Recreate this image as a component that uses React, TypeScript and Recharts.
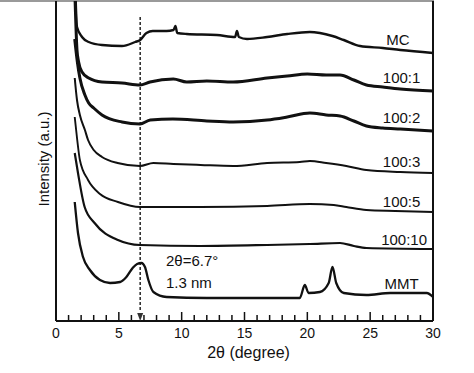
// XRD patterns of MC / MC:MMT films, stacked with an offset, 2θ 0..30°.
import {
  LineChart,
  Line,
  XAxis,
  YAxis,
  ReferenceLine,
  ReferenceDot,
  Label,
} from 'recharts'

const FONT = '"Liberation Sans", Arial, sans-serif'
const INK = '#111'

// 2θ positions and offset intensities (a.u.)
const mcTheta = [1.48, 1.67, 2.07, 2.6, 3.66, 5.25, 6.3, 6.7, 7.2, 7.7, 8.8, 9.35, 9.5, 9.65, 10.4, 12.8, 14.25, 14.4, 14.55, 15.2, 16.8, 18.4, 20.2, 21.0, 22.0, 22.9, 24.2, 26.0, 27.4, 30]
const mcLevel = [361, 294, 284, 279, 276, 275, 279, 281, 288, 290, 290, 291, 295, 288, 287, 286, 284, 290, 284, 282, 284, 287, 289, 288, 285, 281, 275, 273, 271, 268]

const r1Theta = [1.45, 1.67, 1.8, 2.07, 2.6, 3.66, 5.25, 6.68, 7.48, 9.34, 10.4, 12.0, 14.1, 16.8, 18.4, 20.0, 21.5, 22.6, 23.7, 24.7, 26, 27.4, 30]
const r1Level = [351, 271, 259, 249, 243, 239, 238, 236, 239, 242, 239, 240, 239, 243, 245, 247, 246, 246, 241, 236, 234, 232, 230]

const r2Theta = [1.49, 1.7, 1.9, 2.3, 2.6, 3.0, 3.66, 5.25, 6.68, 7.5, 9.3, 12, 14.1, 16.8, 18.4, 20.2, 21.5, 22.6, 23.7, 24.7, 26, 27.4, 30]
const r2Level = [282, 259, 243, 226, 218, 213, 206, 199, 197, 201, 202, 200, 199, 201, 204, 208, 206, 205, 200, 195, 193, 192, 190]

const r3Theta = [1.49, 1.67, 1.9, 2.3, 2.55, 3.0, 3.66, 4.9, 6.68, 7.75, 9.34, 11.5, 14.1, 16.8, 19.4, 20.2, 21.5, 23.1, 24.7, 27.4, 30]
const r3Level = [243, 221, 206, 191, 181, 171, 164, 158, 155, 158, 157, 156, 155, 158, 159, 160, 158, 155, 151, 149, 148]

const r5Theta = [1.49, 1.69, 1.9, 2.55, 3.5, 4.93, 6.68, 11.5, 16.8, 20.2, 22.1, 23.1, 24.7, 27, 30]
const r5Level = [204, 181, 161, 141, 127, 119, 114, 114, 115, 117, 116, 114, 111, 110, 109]

const r10Theta = [1.49, 1.75, 2.28, 3.07, 4.93, 6.68, 11.5, 16.8, 20.2, 22.6, 23.7, 24.7, 30]
const r10Level = [168, 148, 114, 98, 81, 76, 75, 76, 77, 78, 75, 73, 72]

const mmtTheta = [1.49, 1.75, 2.15, 2.7, 3.5, 4.3, 5.1, 5.6, 6.1, 6.45, 6.8, 7.08, 7.35, 7.75, 8.8, 12, 16, 19.4, 19.8, 20.1, 21.0, 21.7, 22.0, 22.3, 22.9, 24.7, 26.6, 28.7, 29.5, 30]
const mmtLevel = [119, 88, 64, 51, 41, 38, 39, 44, 53, 57, 58, 54, 41, 29, 24, 23, 23, 23, 36, 28, 29, 38, 54, 38, 28, 26, 28, 28, 28, 24]

const seriesNames = ['MC', '100:1', '100:2', '100:3', '100:5', '100:10', 'MMT']
const labelTheta = [27.2, 27.5, 27.5, 27.5, 27.5, 27.7, 27.5]
const labelLevel = [276, 238, 198, 154, 114, 76, 32]

const xTicks = Array.from({ length: 31 }, (_, i) => i)

const zip = (t: number[], v: number[]) => t.map((x, i) => ({ t: x, v: v[i] }))

const series = [
  { data: zip(mcTheta, mcLevel), w: 2.4 },
  { data: zip(r1Theta, r1Level), w: 3 },
  { data: zip(r2Theta, r2Level), w: 3 },
  { data: zip(r3Theta, r3Level), w: 2 },
  { data: zip(r5Theta, r5Level), w: 1.9 },
  { data: zip(r10Theta, r10Level), w: 2.2 },
  { data: zip(mmtTheta, mmtLevel), w: 2.3 },
]

function XTick(props: any) {
  const { x, y, payload } = props
  const major = payload.value % 5 === 0
  return (
    <g>
      <line x1={x} x2={x} y1={y} y2={y - (major ? 9 : 6)} stroke={INK} strokeWidth={1.5} />
      {major && (
        <text x={x} y={y + 17} textAnchor="middle" fontSize={14} fontFamily={FONT} fill={INK}>
          {payload.value}
        </text>
      )}
    </g>
  )
}

const textShape = (value: string, anchor: 'start' | 'middle') => (p: any) => (
  <text x={p.cx} y={p.cy} textAnchor={anchor} fontSize={15} fontFamily={FONT} fill={INK}>
    {value}
  </text>
)

const arrowShape = (p: any) => (
  <polygon
    points={`${p.cx - 3},${p.cy - 6} ${p.cx + 3},${p.cy - 6} ${p.cx},${p.cy + 2}`}
    fill="#333"
  />
)

export default function App() {
  return (
    <div style={{ position: 'absolute', left: 0, top: 0, width: 474, height: 373, background: '#fff' }}>
      {/* grey strip along the top edge of the scan */}
      <div style={{ position: 'absolute', left: 0, top: 0, width: 434, height: 2, background: '#9a9a9a' }} />
      <LineChart width={474} height={373} margin={{ top: 1, right: 41, bottom: 0, left: 0 }}>
        <XAxis
          type="number"
          dataKey="t"
          domain={[0, 30]}
          ticks={xTicks}
          interval={0}
          height={52}
          tickSize={0}
          tickMargin={0}
          tickLine={false}
          tick={<XTick />}
          axisLine={{ stroke: INK, strokeWidth: 2 }}
        >
          <Label
            content={(p: any) => (
              <text
                x={p.viewBox.x + p.viewBox.width / 2 + 4}
                y={p.viewBox.y + 37}
                textAnchor="middle"
                fontSize={16}
                fontFamily={FONT}
                fill={INK}
              >
                2θ (degree)
              </text>
            )}
          />
        </XAxis>
        <YAxis
          type="number"
          domain={[0, 320]}
          allowDataOverflow
          width={56}
          tick={false}
          tickLine={false}
          axisLine={{ stroke: INK, strokeWidth: 2 }}
        >
          <Label
            content={(p: any) => {
              const cx = 49
              const cy = p.viewBox.y + p.viewBox.height / 2 - 2
              return (
                <text
                  x={cx}
                  y={cy}
                  transform={`rotate(-90, ${cx}, ${cy})`}
                  textAnchor="middle"
                  fontSize={15}
                  fontFamily={FONT}
                  fill={INK}
                >
                  Intensity (a.u.)
                </text>
              )
            }}
          />
        </YAxis>

        <ReferenceLine x={30} stroke={INK} strokeWidth={2} />
        <ReferenceLine
          segment={[{ x: 6.7, y: 304 }, { x: 6.7, y: 9 }]}
          stroke="#333"
          strokeWidth={1.6}
          strokeDasharray="3 2"
        />
        <ReferenceDot x={6.7} y={2} shape={arrowShape} />

        {series.map((s, i) => (
          <Line
            key={seriesNames[i]}
            data={s.data}
            dataKey="v"
            type="monotone"
            stroke={INK}
            strokeWidth={s.w}
            dot={false}
            activeDot={false}
            isAnimationActive={false}
          />
        ))}

        {seriesNames.map((n, i) => (
          <ReferenceDot key={`lab-${n}`} x={labelTheta[i]} y={labelLevel[i]} shape={textShape(n, 'middle')} />
        ))}
        <ReferenceDot x={8.75} y={55} shape={textShape('2θ=6.7°', 'start')} />
        <ReferenceDot x={8.75} y={33} shape={textShape('1.3 nm', 'start')} />
      </LineChart>
    </div>
  )
}
